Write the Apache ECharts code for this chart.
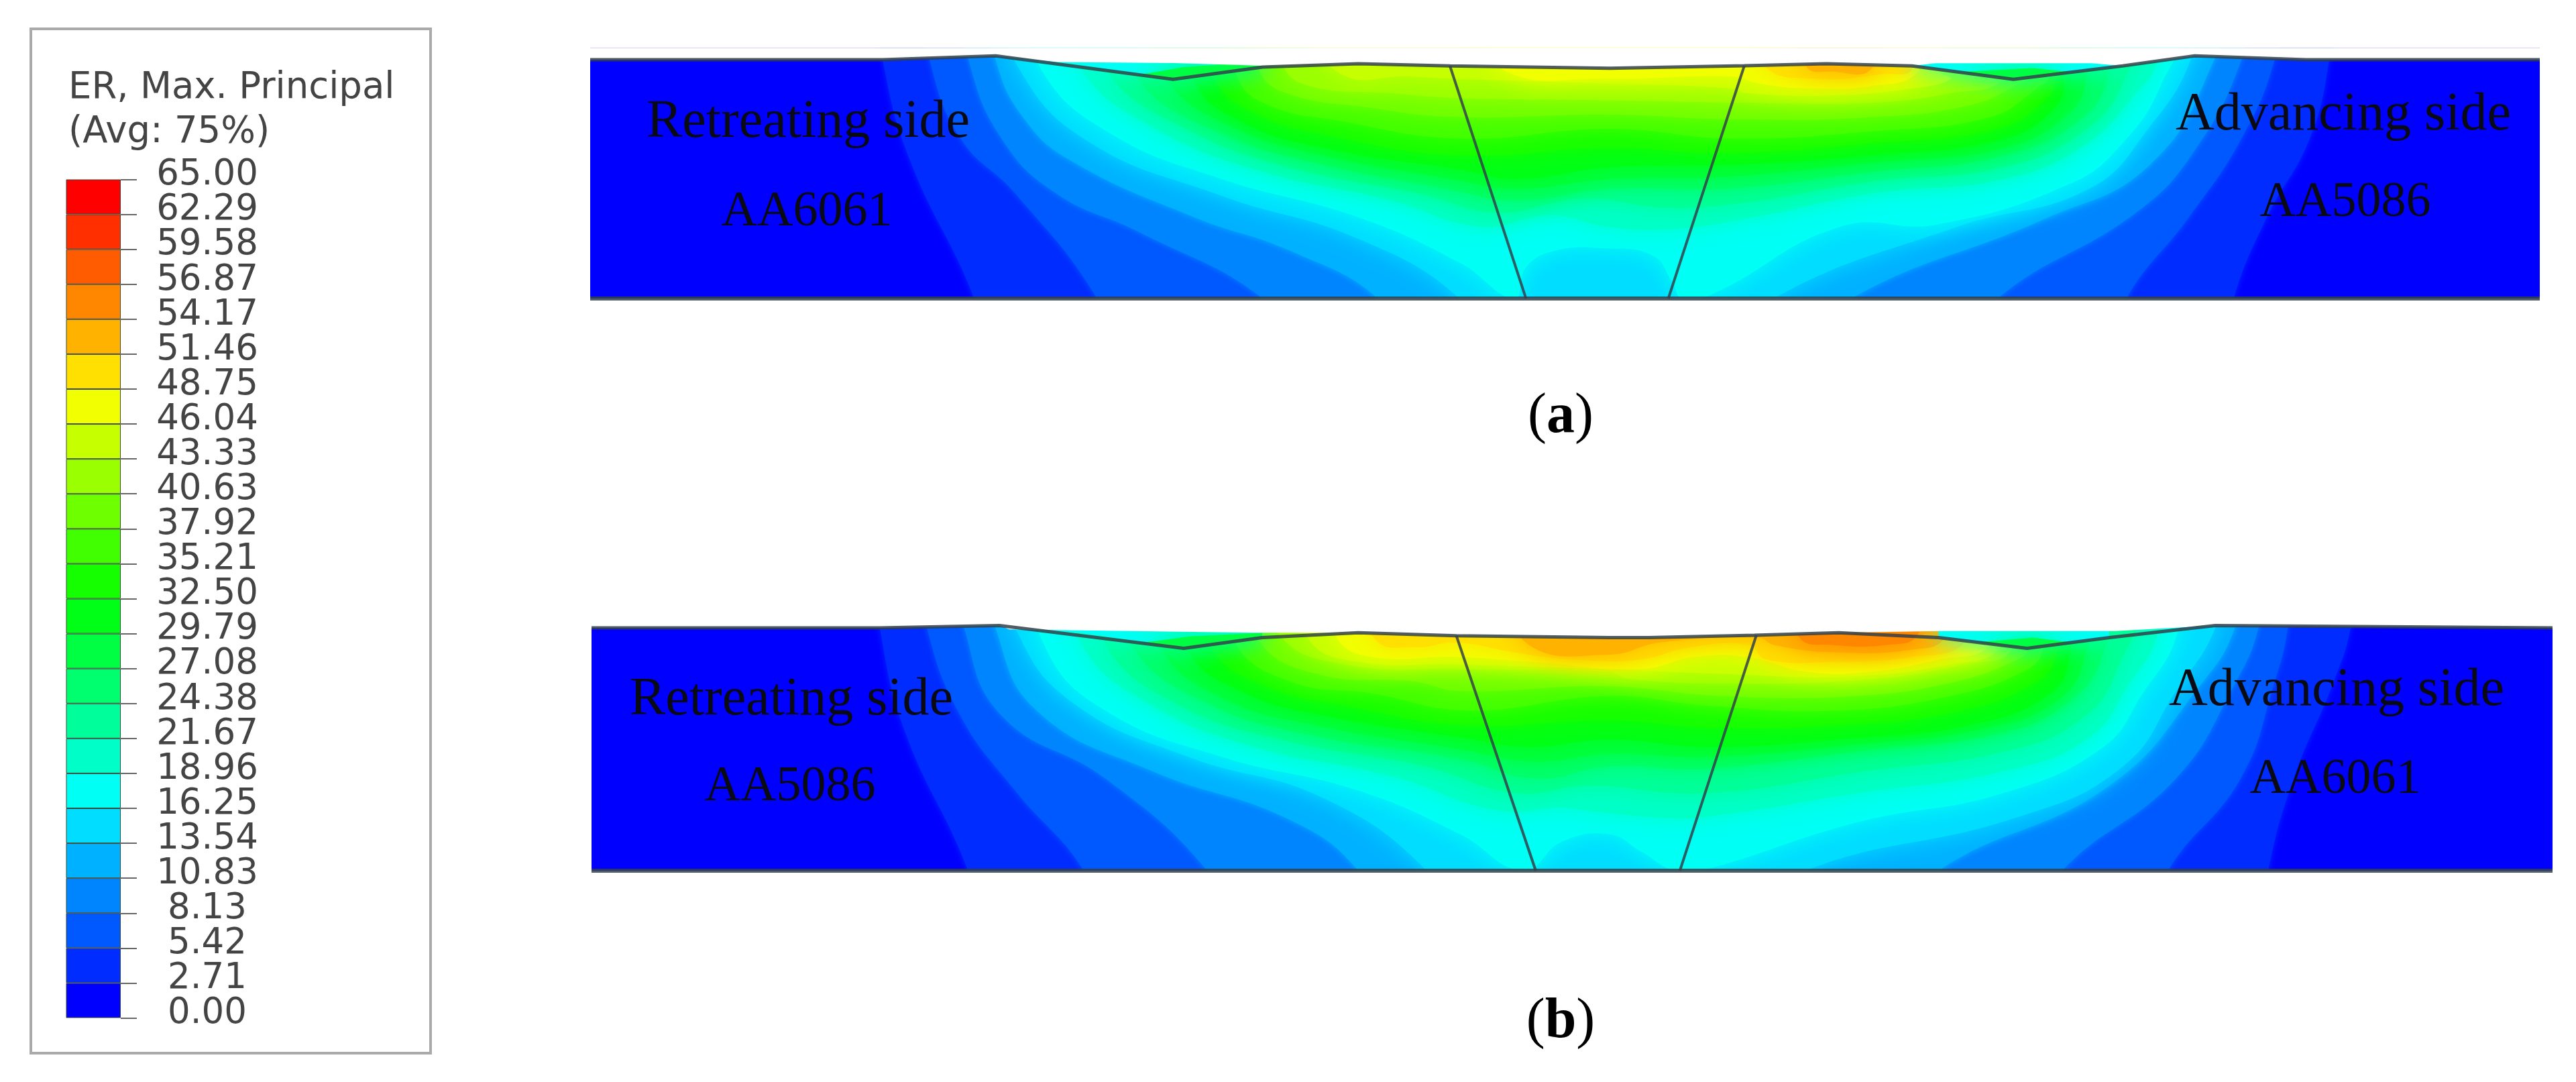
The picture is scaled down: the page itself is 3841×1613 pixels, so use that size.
<!DOCTYPE html>
<html>
<head>
<meta charset="utf-8">
<style>html,body{margin:0;background:#fff}#chart{width:3841px;height:1613px}</style>
<script src="https://cdn.jsdelivr.net/npm/echarts@6/dist/echarts.min.js"></script>
</head>
<body>
<div id="chart"></div>
<script>
// legend, bottom to top
const legendTicks = ['0.00','2.71','5.42','8.13','10.83','13.54','16.25','18.96','21.67','24.38','27.08','29.79','32.50','35.21','37.92','40.63','43.33','46.04','48.75','51.46','54.17','56.87','59.58','62.29','65.00'];
const bandColors = ['#0000ff','#002cff','#0058ff','#0085ff','#00b1ff','#00ddff','#00fff4','#00ffc8','#00ff9b','#00ff6f','#00ff43','#00ff17','#15ff00','#41ff00','#6eff00','#9aff00','#c6ff00','#f2ff00','#ffe000','#ffb300','#ff8700','#ff5b00','#ff2f00','#ff0000'];

// contour outlines: x = 0..1000 across the plate, y = 0 bottom, 100 top
const aLevel1 = [[150,115],[150,100],[164,58],[197,0],[197,-12],[843,-12],[843,0],[860,34],[882,67],[892,100],[892,115]];
const aLevel2 = [[174,115],[174,100],[190,67],[218,44],[260,0],[260,-12],[788,-12],[788,0],[820,34],[847,67],[864,100],[864,115]];
const aLevel3 = [[194,115],[194,100],[211,67],[239,44],[281,28],[345,0],[345,-12],[722,-12],[722,0],[793,36],[823,62],[847,100],[847,115]];
const aLevel4 = [[208,115],[208,100],[222,76],[246,58],[310,34],[359,20],[404,0],[404,-12],[647,-12],[647,0],[745,33],[800,56],[833,100],[833,115]];
const aLevel5 = [[218,115],[218,99],[253,67],[324,43],[394,25],[446,0],[446,-12],[607,-12],[607,0],[701,30],[769,46],[800,72],[821,100],[821,115]];
const aLevel6 = [[232,115],[232,95],[267,69],[324,50],[394,34],[446,15],[474,0],[480,13],[495,20],[520,21],[545,18],[555,7],[560,0],[576,2],[641,30],[691,31],[759,48],[786,65],[806,90],[813,115]];
const aLevel7 = [[253,115],[253,95],[288,72],[341,54],[411,41],[457,30],[492,35],[522,30],[553,29],[590,33],[658,44],[725,50],[766,64],[793,86],[803,98],[803,115]];
const aLevel8 = [[266,115],[266,94],[306,71],[358,55],[425,44],[466,36],[508,42],[552,38],[590,40],[658,49],[725,55],[766,70],[786,90],[790,115]];
const aLevel9 = [[281,115],[281,92],[324,69],[376,56],[439,46],[475,41],[523,46],[583,46],[658,53],[725,60],[766,76],[779,95],[779,115]];
const aLevel10 = [[296,115],[296,92],[329,72],[376,60],[442,50],[475,46],[523,50],[583,51],[658,57],[725,63],[759,78],[768,95],[768,115]];
const aLevel11 = [[310,115],[310,91],[334,74],[376,63],[446,54],[475,50],[523,55],[583,56],[658,60],[725,67],[752,81],[756,95],[756,115]];
const aLevel12 = [[320,115],[320,93],[340,78],[381,68],[446,60],[523,63],[585,61],[658,65],[721,71],[747,84],[752,95],[752,115]];
const aLevel13 = [[331,115],[331,95],[345,82],[387,74],[446,67],[523,71],[586,67],[658,70],[718,76],[742,88],[749,94],[749,115]];
const aLevel14 = [[343,115],[343,96],[357,86],[399,80],[445,76],[523,77],[588,75],[658,76],[708,81],[733,90],[742,95],[742,115]];
const aLevel15 = [[355,115],[355,98],[369,89],[411,86],[443,84],[523,83],[590,82],[658,82],[698,86],[725,92],[735,115]];
const aLevel16 = [[372,115],[385,94],[420,93],[443,92],[523,90],[585,88],[593,86],[634,85],[678,88],[698,92],[691,96],[691,115]];
const aLevel17 = [[460,115],[470,95],[520,92],[585,93],[600,90],[623,88],[657,89],[681,95],[685,115]];
const aLevel18 = [[603,115],[603,97],[630,92],[664,94],[678,96],[680,115]];
const aLevel19 = [[620,115],[624,97],[637,95],[657,96],[660,115]];
const aLevelIds = [1,2,3,4,5,6,7,8,9,10,11,12,13,14,15,16,17,18,19];
const aLevels = [aLevel1,aLevel2,aLevel3,aLevel4,aLevel5,aLevel6,aLevel7,aLevel8,aLevel9,aLevel10,aLevel11,aLevel12,aLevel13,aLevel14,aLevel15,aLevel16,aLevel17,aLevel18,aLevel19];

const bLevel1 = [[147,115],[147,100],[160,57],[192,0],[192,-12],[855,-12],[855,0],[868,38],[888,77],[897,100],[897,115]];
const bLevel2 = [[171,115],[171,100],[188,64],[216,33],[251,0],[251,-12],[804,-12],[804,0],[841,38],[858,77],[865,100],[865,115]];
const bLevel3 = [[190,115],[190,100],[209,64],[262,38],[314,0],[314,-12],[750,-12],[750,0],[808,38],[838,77],[850,100],[850,115]];
const bLevel4 = [[206,115],[206,100],[227,66],[286,41],[356,21],[391,0],[391,-12],[687,-12],[687,0],[774,35],[821,77],[838,100],[838,115]];
const bLevel5 = [[216,115],[216,100],[244,70],[304,47],[373,30],[426,0],[426,-12],[619,-12],[619,0],[727,22],[781,43],[808,74],[828,100],[828,115]];
const bLevel6 = [[232,115],[232,91],[262,66],[321,47],[391,33],[443,15],[475,0],[495,12],[519,15],[535,8],[552,0],[566,0],[646,20],[720,32],[771,51],[791,73],[808,96],[808,115]];
const bLevel7 = [[251,115],[251,92],[286,68],[338,51],[408,39],[461,25],[495,26],[505,25],[542,22],[566,22],[646,32],[720,41],[764,55],[784,77],[798,96],[798,115]];
const bLevel8 = [[263,115],[263,92],[300,68],[352,54],[425,43],[471,32],[507,35],[569,32],[650,41],[720,49],[759,62],[778,83],[785,115]];
const bLevel9 = [[276,115],[276,92],[314,69],[366,56],[443,46],[481,38],[519,43],[569,42],[653,50],[720,57],[754,70],[771,90],[771,115]];
const bLevel10 = [[290,115],[290,92],[322,71],[369,60],[443,50],[480,45],[519,48],[569,47],[645,52],[712,59],[749,71],[762,90],[762,115]];
const bLevel11 = [[304,115],[304,91],[331,74],[373,64],[443,55],[478,51],[519,54],[569,51],[636,54],[703,60],[744,73],[754,90],[754,115]];
const bLevel12 = [[316,115],[316,92],[344,76],[385,68],[445,60],[519,62],[569,59],[636,60],[698,66],[737,78],[747,90],[747,115]];
const bLevel13 = [[328,115],[328,94],[356,78],[398,73],[447,66],[519,72],[569,68],[636,66],[693,72],[730,82],[740,91],[740,115]];
const bLevel14 = [[340,115],[340,95],[370,81],[419,78],[443,74],[519,76],[576,72],[645,72],[696,78],[727,87],[732,91],[732,115]];
const bLevel15 = [[352,115],[352,96],[384,85],[440,83],[519,82],[529,79],[582,77],[653,79],[700,85],[724,91],[724,115]];
const bLevel16 = [[365,115],[366,95],[391,86],[440,85],[519,83],[577,81],[640,80],[693,85],[718,92],[720,115]];
const bLevel17 = [[378,115],[380,96],[398,88],[440,88],[480,86],[535,83],[562,88],[590,88],[619,82],[653,82],[687,87],[713,93],[716,115]];
const bLevel18 = [[395,115],[400,95],[420,92],[441,94],[470,90],[500,87],[535,87],[560,92],[590,93],[599,87],[633,86],[673,88],[700,94],[702,115]];
const bLevel19 = [[470,115],[478,93],[519,89],[545,94],[595,96],[603,93],[633,90],[673,91],[690,96],[692,115]];
const bLevel20 = [[612,115],[616,96],[633,93],[660,93],[676,97],[678,115]];
const bLevelIds = [1,2,3,4,5,6,7,8,9,10,11,12,13,14,15,16,17,18,19,20];
const bLevels = [bLevel1,bLevel2,bLevel3,bLevel4,bLevel5,bLevel6,bLevel7,bLevel8,bLevel9,bLevel10,bLevel11,bLevel12,bLevel13,bLevel14,bLevel15,bLevel16,bLevel17,bLevel18,bLevel19,bLevel20];

// cooler slivers left above the two V-shaped shoulders
const aSliverLeft = [[225,101],[299,91.8],[345,96.9],[345,101]];
const aSliverLeftGreen = [[280,93.5],[299,91.8],[345,96.9],[345,99],[305,97]];
const aSliverRight = [[678,97.4],[730,91.8],[786,97.4],[786,101],[678,101]];
const aSliverRightGreen = [[700,94.8],[730,91.8],[760,94.8],[740,96.5]];
const bSliverLeft = [[225,101],[302,91.6],[342,96],[342,101]];
const bSliverLeftGreen = [[280,93.8],[302,91.6],[342,96],[342,98],[305,96.5]];
const bSliverRight = [[687,96],[732,91.6],[774,96],[774,101],[687,101]];
const bSliverRightGreen = [[705,94],[732,91.6],[755,94],[735,96]];
const sliverIds = [6,10];

// plate outline and the two nugget boundaries
const aProfile = [[0,100],[150,100],[208,101.6],[299,91.8],[345,96.9],[394,98.3],[441,97.4],[523,96.4],[592,97.5],[634,98.3],[678,97.4],[730,91.8],[786,97.4],[823,101.6],[880,100],[1000,100]];
const aEdge = [[0,100],[150,100],[208,101.6],[240,99],[300,98.6],[345,97.5],[394,98.3],[441,97.4],[523,96.4],[592,97.5],[634,98.3],[678,97.4],[690,98.5],[770,98.5],[786,97.4],[823,101.6],[880,100],[1000,100]];
const aNuggetLeft = [[441,97.4],[480,0]];
const aNuggetRight = [[592,97.5],[553,0]];
const bProfile = [[0,100],[147,100],[208,101],[302,91.6],[342,96],[391,98],[441,96.8],[519,96],[539,96],[593,97],[636,98],[687,96],[732,91.6],[774,96],[828,101],[1000,100]];
const bEdge = [[0,100],[147,100],[208,101],[213,99.4],[338,98],[391,98],[441,96.8],[519,96],[539,96],[593,97],[636,98],[687,98.7],[777,98.7],[828,101],[1000,100]];
const bNuggetLeft = [[441,96.8],[481.5,0]];
const bNuggetRight = [[594,97],[555,0]];
const plateBottom = [[0,0],[1000,0]];

const LABEL_FONT = 'Liberation Serif';
const LEGEND_FONT = 'DejaVu Sans';

const chart = echarts.init(document.getElementById('chart'), null, { renderer: 'canvas' });

const contourSeries = (axisIndex, levels, levelIds, z, smooth) => ({
  type: 'custom',
  xAxisIndex: axisIndex,
  yAxisIndex: axisIndex,
  clip: true,
  silent: true,
  data: levelIds.map((id) => [id]),
  renderItem: (params, api) => {
    const id = levelIds[params.dataIndex];
    const color = bandColors[id];
    return {
      type: 'polygon',
      shape: {
        points: levels[params.dataIndex].map((p) => api.coord(p)),
        smooth,
      },
      style: { fill: color, shadowBlur: id < 5 ? 10 : 34, shadowColor: color },
    };
  },
  z,
});

const baseSeries = (axisIndex) => ({
  type: 'custom',
  xAxisIndex: axisIndex,
  yAxisIndex: axisIndex,
  clip: true,
  silent: true,
  data: [[0]],
  renderItem: (params, api) => ({
    type: 'polygon',
    shape: { points: [[0,-12],[1000,-12],[1000,115],[0,115]].map((p) => api.coord(p)) },
    style: { fill: bandColors[0] },
  }),
  z: 1,
});

// white above the plate's top edge
const maskSeries = (axisIndex, edge) => ({
  type: 'custom',
  xAxisIndex: axisIndex,
  yAxisIndex: axisIndex,
  clip: true,
  silent: true,
  data: [[0]],
  renderItem: (params, api) => ({
    type: 'polygon',
    shape: { points: edge.concat([[1000,115],[0,115]]).map((p) => api.coord(p)) },
    style: { fill: '#ffffff' },
  }),
  z: 4,
});

const outline = (axisIndex, data, width) => ({
  type: 'line',
  xAxisIndex: axisIndex,
  yAxisIndex: axisIndex,
  data,
  symbol: 'none',
  silent: true,
  clip: false,
  lineStyle: { color: '#33414a', width, opacity: 0.85 },
  z: 5,
});

const legendSeries = bandColors.map((color, i) => ({
  type: 'bar',
  name: 'band' + i,
  xAxisIndex: 2,
  yAxisIndex: 2,
  stack: 'legend',
  barWidth: '100%',
  data: [1],
  silent: true,
  itemStyle: { color, borderColor: '#3a4a3a', borderWidth: 1 },
}));

const textLabel = (text, x, y, fontSize) => ({
  type: 'text',
  x,
  y,
  z: 20,
  style: { text, fill: '#0a0a14', font: `${fontSize}px "${LABEL_FONT}"`, align: 'center', verticalAlign: 'middle' },
});

const caption = (letter, x, y) => ({
  type: 'text',
  x,
  y,
  z: 20,
  style: {
    text: `({b|${letter}})`,
    fill: '#000',
    font: `84px "${LABEL_FONT}"`,
    align: 'center',
    verticalAlign: 'middle',
    rich: { b: { fontWeight: 'bold', fontSize: 84, fontFamily: LABEL_FONT, fill: '#000' } },
  },
});

const hiddenX = (gridIndex) => ({ type: 'value', gridIndex, min: 0, max: 1000, show: false });
const hiddenY = (gridIndex) => ({ type: 'value', gridIndex, min: 0, max: 105, show: false });

chart.setOption({
  animation: false,
  backgroundColor: '#ffffff',
  grid: [
    { left: 880, top: 71.2, width: 2907, height: 373.8 },
    { left: 882, top: 918, width: 2924, height: 380 },
    // axis runs one band past each end so the 0.00 and 65.00 ticks are ordinary ticks
    { left: 98.5, top: 215.4, width: 81.5, height: 1354.2 },
  ],
  xAxis: [
    hiddenX(0),
    hiddenX(1),
    { type: 'category', gridIndex: 2, data: ['ER'], show: false },
  ],
  yAxis: [
    hiddenY(0),
    hiddenY(1),
    {
      type: 'value',
      gridIndex: 2,
      position: 'right',
      min: -1,
      max: 25,
      interval: 1,
      splitLine: { show: false },
      axisLine: { show: false },
      axisTick: { show: true, length: 24, lineStyle: { color: '#666', width: 2 } },
      axisLabel: {
        show: true,
        showMinLabel: false,
        showMaxLabel: false,
        margin: 129,
        align: 'center',
        verticalAlign: 'bottom',
        lineHeight: 12,
        color: '#444',
        fontFamily: LEGEND_FONT,
        fontSize: 53,
        formatter: (value) => legendTicks[value] || '',
      },
    },
  ],
  series: [
    baseSeries(0),
    contourSeries(0, aLevels, aLevelIds, 2, 0.45),
    contourSeries(0, [aSliverLeft, aSliverLeftGreen], sliverIds, 3, 0),
    contourSeries(0, [aSliverRight, aSliverRightGreen], sliverIds, 3, 0),
    maskSeries(0, aEdge),
    outline(0, aProfile, 5),
    outline(0, plateBottom, 6),
    outline(0, aNuggetLeft, 4),
    outline(0, aNuggetRight, 4),
    baseSeries(1),
    contourSeries(1, bLevels, bLevelIds, 2, 0.45),
    contourSeries(1, [bSliverLeft, bSliverLeftGreen], sliverIds, 3, 0),
    contourSeries(1, [bSliverRight, bSliverRightGreen], sliverIds, 3, 0),
    maskSeries(1, bEdge),
    outline(1, bProfile, 5),
    outline(1, plateBottom, 6),
    outline(1, bNuggetLeft, 4),
    outline(1, bNuggetRight, 4),
    ...legendSeries,
  ],
  graphic: [
    { type: 'rect', shape: { x: 46, y: 43, width: 596, height: 1527 }, style: { fill: 'none', stroke: '#aaa', lineWidth: 4 }, z: 0 },
    { type: 'text', x: 102, y: 132, style: { text: 'ER, Max. Principal', fill: '#444', font: `54.5px "${LEGEND_FONT}"`, verticalAlign: 'middle' } },
    { type: 'text', x: 102, y: 198, style: { text: '(Avg: 75%)', fill: '#444', font: `54.5px "${LEGEND_FONT}"`, verticalAlign: 'middle' } },
    textLabel('Retreating side', 1205, 183, 80),
    textLabel('AA6061', 1203, 317, 74),
    textLabel('Advancing side', 3494, 172, 80),
    textLabel('AA5086', 3497, 303, 74),
    textLabel('Retreating side', 1180, 1044, 80),
    textLabel('AA5086', 1178, 1174, 74),
    textLabel('Advancing side', 3484, 1030, 80),
    textLabel('AA6061', 3482, 1163, 74),
    caption('a', 2327, 622),
    caption('b', 2327, 1524),
  ],
});
</script>
</body>
</html>
